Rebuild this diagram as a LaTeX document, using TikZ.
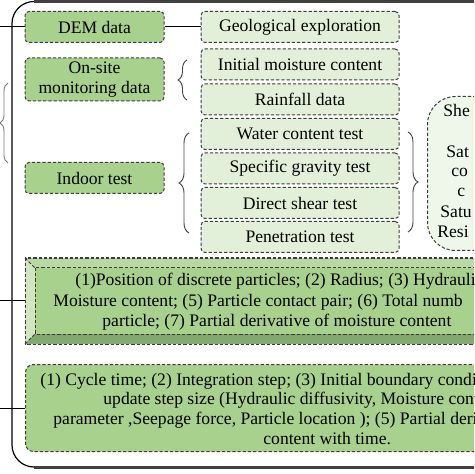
\documentclass[tikz,border=0pt]{standalone}
\usepackage{fontspec}
\setmainfont{Liberation Serif}
\newfontfamily\timesfont{Liberation Serif}
\usetikzlibrary{decorations.pathreplacing, calc}
\definecolor{my_green}{HTML}{A9D18E}
\definecolor{my_lightgreen}{HTML}{E2F0D9}
\definecolor{my_palegreen}{HTML}{EFF6EA}
\definecolor{my_darkgreen}{HTML}{7FA36A}
\definecolor{my_sidegreen}{HTML}{CFE6C0}
\definecolor{my_topgreen}{HTML}{B8D9A3}
\definecolor{my_border}{HTML}{3C3C3C}
\definecolor{my_frame}{HTML}{404040}

\begin{document}
\begin{tikzpicture}[
    x=0.5pt, y=-0.5pt,
    font=\timesfont\fontsize{8.8}{10}\selectfont,
    dbox/.style={draw=my_border, line width=0.5pt, dash pattern=on 1.6pt off 1pt,
        rounded corners=2pt, inner sep=0pt, align=center},
    leftbox/.style={dbox, fill=my_green, minimum width=69.5pt, minimum height=15.5pt},
    rightbox/.style={dbox, fill=my_lightgreen, minimum width=99pt, minimum height=15.5pt},
    dline/.style={draw=my_border, line width=0.5pt, dash pattern=on 1.6pt off 1pt},
    txt/.style={anchor=west, inner sep=0pt},
    brc/.style={decorate, decoration={brace, amplitude=#1}, draw=my_frame, line width=0.45pt},
    lnk/.style={line width=0.5pt, black}
]
\useasboundingbox (0,0) rectangle (474,474);
\clip (0,0) rectangle (474,474);

% ===== Rahmen =====
\draw[black, line width=0.6pt, rounded corners=11pt] (12,1.5) rectangle (660,467);
\draw[my_frame, line width=1.5pt] (34,1.2) -- (474,1.2);
\draw[my_frame, line width=1.3pt] (34,467.3) -- (474,467.3);
\draw[brc=4pt, my_frame!70] (8,163) -- (8,83);

% ===== Datenquellen =====
\node[leftbox] (dem) at (94.5,27) {DEM data};
\node[leftbox, minimum height=21.5pt] (onsite) at (94.5,79.5) {On-site\\monitoring data};
\node[leftbox] (indoor) at (94.5,178) {Indoor test};

\node[rightbox] (geo) at (300,27) {Geological exploration};
\node[rightbox] (moist) at (300,64.5) {Initial moisture content};
\node[rightbox] (rain) at (300,99.5) {Rainfall data};
\node[rightbox] (water) at (300,134) {Water content test};
\node[rightbox] (sg) at (300,168.5) {Specific gravity test};
\node[rightbox] (dshear) at (300,203) {Direct shear test};
\node[rightbox] (pen) at (300,237) {Penetration test};

\draw[lnk] (dem) -- (geo);
\draw[brc=4.5pt] (187,100) -- (187,60);
\draw[brc=5pt] (189,233) -- (189,133);
\draw[brc=5pt] (408,132) -- (408,232);

% Bodenparameter (rechts angeschnitten)
\node[dbox, fill=my_palegreen, rounded corners=14pt, minimum width=80pt,
    minimum height=77pt, anchor=north west] (props) at (427,96) {};
\node[txt] (pa) at (443,110) {She};
\node[txt] (pb) at (446,152) {Sat};
\node[txt] (pc) at (451,172) {co};
\node[txt] (pd) at (457,192) {c};
\node[txt] (pe) at (440,212) {Satu};
\node[txt] (pf) at (437,232) {Resi};

% ===== Partikelattribute =====
\node[dbox, rounded corners=0pt, fill=my_topgreen, minimum width=300pt,
    minimum height=42.5pt, anchor=north west] (attr) at (25,258) {};
\fill[my_sidegreen] (attr.north west) -- ++(10,10)
    -- ($(attr.south west)+(10,-10)$) -- (attr.south west) -- cycle;
\shade[top color=my_darkgreen, bottom color=my_darkgreen!80!my_green]
    (attr.south west) -- ++(10,-10)
    -- ($(attr.south east)+(-10,-10)$) -- (attr.south east) -- cycle;
\fill[my_green] ($(attr.north west)+(10,10)$) rectangle ($(attr.south east)+(-10,-10)$);
\draw[dline] (attr.north west) rectangle (attr.south east);
\draw[dline] ($(attr.north west)+(10,10)$) rectangle ($(attr.south east)+(-10,-10)$);
\draw[dline] (attr.north west) -- ++(10,10);
\draw[dline] (attr.south west) -- ++(10,-10);
\node[txt] (a1) at (75,281) {(1)Position of discrete particles; (2) Radius; (3) Hydrauli};
\node[txt] (a2) at (53,302) {Moisture content; (5) Particle contact pair; (6) Total numb};
\node[txt] (a3) at (102,322) {particle; (7) Partial derivative of moisture content};

% ===== Berechnungsparameter =====
\node[dbox, rounded corners=4pt, fill=my_green, minimum width=300pt,
    minimum height=43.5pt, anchor=north west] (ctrl) at (25,364) {};
\node[txt] (c1) at (40,381) {(1) Cycle time; (2) Integration step; (3) Initial boundary condi};
\node[txt] (c2) at (103,400) {update step size (Hydraulic diffusivity, Moisture conte};
\node[txt] (c3) at (53,420) {parameter ,Seepage force, Particle location ); (5) Partial deri};
\node[txt] (c4) at (263,439) {content with time.};

% Zuleitungen von links
\coordinate (l1) at (0,27);
\coordinate (l2) at (0,301);
\coordinate (l3) at (0,408);
\draw[lnk] (l1) -- (dem);
\draw[lnk] (l2) -- (l2 -| attr.west);
\draw[lnk] (l3) -- (l3 -| ctrl.west);

\end{tikzpicture}
\end{document}
